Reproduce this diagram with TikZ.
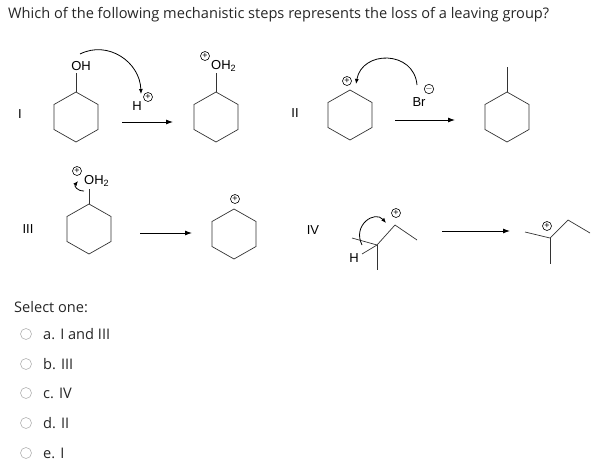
\documentclass[tikz,border=0pt]{standalone}
\usepackage{fontspec}
\setmainfont{Open Sans}
\newfontfamily\chemf{Liberation Sans}
\usetikzlibrary{arrows.meta}
\begin{document}
\begin{tikzpicture}[x=1pt,y=-1pt,
  bond/.style={line width=0.7pt,draw=black!80},
  rxn/.style={line width=0.9pt,-{Latex[length=7pt,width=5pt]}},
  curly/.style={line width=0.8pt,-{Latex[length=5pt,width=4pt]}},
  lab/.style={font=\chemf\fontsize{13}{14}\selectfont,inner sep=0pt},
  plus/.style={circle,draw,line width=0.6pt,inner sep=0pt,minimum size=9pt,font=\chemf\fontsize{9}{9}\selectfont},
  txt/.style={font=\fontsize{14.6}{16}\selectfont,inner sep=0pt,anchor=west,text=black!85},
  radio/.style={circle,draw=black!30,line width=0.6pt,minimum size=11pt,inner sep=0pt}]
\useasboundingbox (0,0) rectangle (612,474);
\node[txt] (title) at (8,15) {Which of the following mechanistic steps represents the loss of a leaving group?};
\tikzset{hexa/.pic={\draw[bond] (0,-25)--(22,-12.5)--(22,12.5)--(0,25)--(-22,12.5)--(-22,-12.5)--cycle;}}
% Row I
\node[lab] (rI) at (20,114) {I};
\pic at (76,117) {hexa};
\coordinate (c1) at (76,92);
\node[lab] (oh1) at (81,66) {OH};
\draw[bond] (c1) -- (76,73);
\node[lab] (h1) at (137,106) {H};
\node[plus] (p1) at (148,97) {+};
\draw[curly] (80,54) ..controls (108,40) and (140,62) .. (141,94);
\draw[rxn] (122,122) -- (173,122);
\pic at (216,117) {hexa};
\draw[bond] (216,92) -- (216,73);
\node[lab,anchor=west] (oh2) at (211,66) {OH\textsubscript{2}};
\node[plus] (p2) at (205,56) {+};
\node[lab] (rII) at (295,113) {II};
\pic at (350,115) {hexa};
\node[plus] (p3) at (347,81) {+};
\node[lab] (br) at (419,102) {Br};
\node[plus] (m1) at (429,89) {$-$};
\draw[curly] (417,85) ..controls (414,50) and (362,50) .. (356,84);
\draw[rxn] (395,120) -- (455,120);
\pic at (507,117) {hexa};
\draw[bond] (507,92) -- (507,67);
% Row III
\node[lab] (rIII) at (28,229) {III};
\pic at (89,229) {hexa};
\draw[bond] (89,204) -- (89,189);
\node[lab,anchor=west] (oh3) at (84,181) {OH\textsubscript{2}};
\node[plus] (p4) at (77,171) {+};
\draw[curly] (84,191) ..controls (77,191) and (74,186) .. (78,181);
\draw[rxn] (140,233) -- (192,233);
\pic at (234,234) {hexa};
\node[plus] (p5) at (235,199) {+};
% Row IV
\node[lab] (rIV) at (313,230) {IV};
\coordinate (a) at (377,245);
\coordinate (b) at (395,225);
\draw[bond] (352,238) -- (a) -- (b) -- (417,240);
\draw[bond] (a) -- (377,270);
\draw[bond] (a) -- (362,254);
\node[lab] (h4) at (354,258) {H};
\node[plus] (p6) at (396,213) {+};
\draw[curly] (362,245) ..controls (352,225) and (375,210) .. (386,223);
\draw[rxn] (442,231) -- (510,231);
\coordinate (c) at (550,238);
\draw[bond] (525,232) -- (c) -- (568,220) -- (590,233);
\draw[bond] (c) -- (550,264);
\node[plus] (p7) at (547,226) {+};
% Options
\node[txt] (sel) at (14,307) {Select one:};
\foreach \y/\t [count=\i] in {334/a. I and III,364/b. III,393/c. IV,423/d. II,453/e. I}{
  \node[radio] (r\i) at (26,\y) {};
  \node[txt] (o\i) at (43,\y) {\t};
}
\end{tikzpicture}
\end{document}
